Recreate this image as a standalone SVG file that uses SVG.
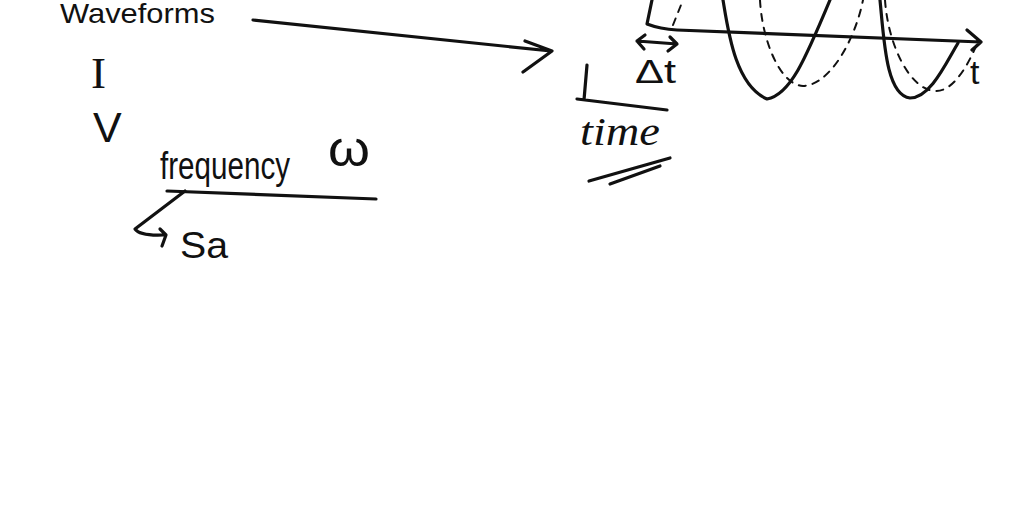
<svg xmlns="http://www.w3.org/2000/svg" width="1024" height="512" viewBox="0 0 1024 512">
<style>
.s{fill:none;stroke:#111;stroke-width:3.2;stroke-linecap:round;stroke-linejoin:round}
.d{fill:none;stroke:#111;stroke-width:2;stroke-dasharray:7 7;stroke-linecap:round}
.t{font-family:"Liberation Sans",Arial,sans-serif;fill:#111}
.f{font-family:"Liberation Serif","Times New Roman",serif;fill:#111}
</style>
<rect width="1024" height="512" fill="#fff"/>
<g id="labels">
<text class="t" x="60" y="23" font-size="28" textLength="155" lengthAdjust="spacingAndGlyphs">Waveforms</text>
<text class="f" x="91" y="88" font-size="45">I</text>
<text class="t" x="93" y="142" font-size="43">V</text>
<text class="t" x="160" y="179" font-size="38" textLength="130" lengthAdjust="spacingAndGlyphs">frequency</text>
<text class="t" x="328" y="166" font-size="50" textLength="42" lengthAdjust="spacingAndGlyphs">ω</text>
<text class="t" x="180" y="258" font-size="36" textLength="48" lengthAdjust="spacingAndGlyphs">Sa</text>
<text class="t" x="635" y="83" font-size="33" textLength="41" lengthAdjust="spacingAndGlyphs">Δt</text>
<text class="t" x="970" y="84" font-size="34">t</text>
<text class="f" x="580" y="145" font-size="40" font-style="italic" textLength="80" lengthAdjust="spacingAndGlyphs">time</text>
</g>
<g id="connectors">
<path class="s" d="M253 20 L551 51 M525 41 L552 51 L523 72"/>
<path class="s" d="M167 191 L376 199"/>
<path class="s" d="M185 191 L135 229 Q140 236 163 235 M160 229 L166 235 L162 246"/>
</g>
<g id="graph">
<path class="s" d="M652 0 L647 24 Q660 29 677 30 L981 42 M967 30 L981 42 L972 50"/>
<path class="s" d="M637 41 L677 44 M645 35 L637 41 L644 49 M670 37 L677 44 L668 51"/>
<path class="s" d="M723 0 C728 30 735 85 767 99 C790 95 805 60 830 0"/>
<path class="s" d="M880 0 C884 40 886 95 910 98 C930 98 945 65 958 43"/>
<path class="d" d="M673 25 L683 0"/>
<path class="d" d="M760 0 C762 40 780 85 803 86 C830 85 855 40 863 0"/>
<path class="d" d="M885 0 C888 45 910 90 935 91 C955 92 970 60 977 44"/>
<path class="s" d="M587 65 L584 100 M577 99 L667 110"/>
<path class="s" d="M589 181 L670 158 M610 184 L660 166"/>
</g>
</svg>
